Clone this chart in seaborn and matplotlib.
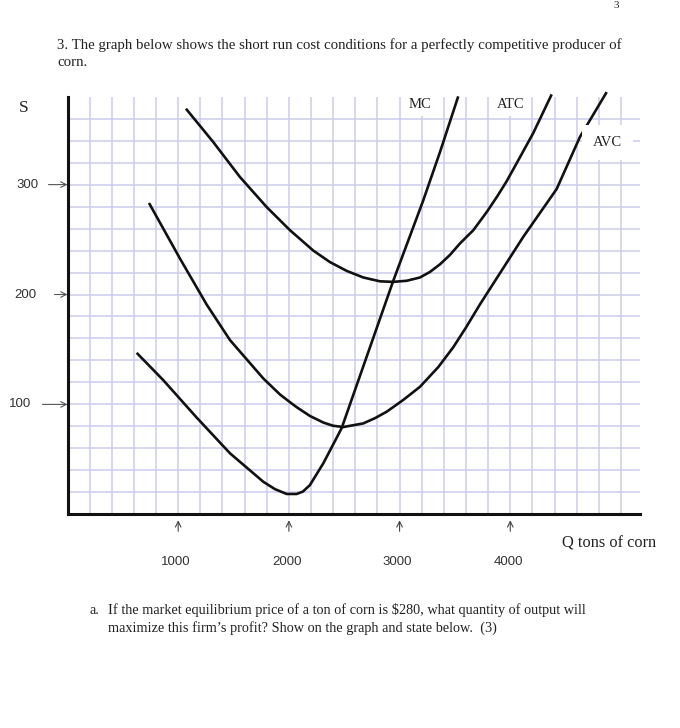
import matplotlib
matplotlib.use("Agg")
import matplotlib.pyplot as plt
import seaborn as sns
import pandas as pd

# ---------------- data ----------------
mc_q = [625, 865, 1167, 1468, 1769, 1874, 1980, 2070, 2127, 2190, 2311, 2416, 2477, 2943, 3214, 3365, 3530]
mc_c = [146.9, 122.1, 88.0, 55.5, 29.6, 22.9, 18.5, 18.5, 20.7, 26.6, 46.4, 66.6, 78.5, 212.5, 285.7, 329.6, 380.3]

atc_q = [1070, 1317, 1558, 1799, 2010, 2220, 2371, 2522, 2672, 2823, 2943, 3064, 3184, 3274, 3365,
         3455, 3545, 3666, 3787, 3880, 3967, 4088, 4208, 4374]
atc_c = [369.1, 338.7, 306.9, 279.6, 258.5, 240.0, 229.5, 221.5, 215.5, 212.0, 211.5, 212.5, 215.5, 220.5, 227.5,
         236.0, 246.4, 258.5, 275.0, 289.0, 303.0, 325.0, 347.0, 382.1]

avc_q = [736, 865, 1016, 1257, 1468, 1769, 1920, 2010, 2070, 2190, 2311, 2398, 2491, 2672, 2778, 2883,
         3031, 3184, 3350, 3485, 3600, 3726, 4117, 4419, 4629, 4871]
avc_c = [283.3, 260.0, 232.7, 190.9, 158.5, 123.6, 109.0, 102.0, 97.5, 89.5, 83.5, 80.6, 79.4, 82.7, 87.5, 93.3,
         103.9, 116.0, 134.0, 152.0, 170.0, 191.0, 252.4, 296.0, 343.3, 384.2]

curve_names = ["MC", "ATC", "AVC"]
x_ticks = [1000, 2000, 3000, 4000]
y_ticks = [100, 200, 300]

title_lines = ["3. The graph below shows the short run cost conditions for a perfectly competitive producer of",
               "corn."]
question_lines = ["If the market equilibrium price of a ton of corn is $280, what quantity of output will",
                  "maximize this firm\u2019s profit? Show on the graph and state below.  (3)"]

df = pd.concat([
    pd.DataFrame({"q": mc_q, "cost": mc_c, "curve": "MC"}),
    pd.DataFrame({"q": atc_q, "cost": atc_c, "curve": "ATC"}),
    pd.DataFrame({"q": avc_q, "cost": avc_c, "curve": "AVC"}),
], ignore_index=True)

# ---------------- style ----------------
sns.set_style("white")
plt.rcParams["font.family"] = ["Liberation Serif", "DejaVu Serif"]

W, H = 680, 728
fig = plt.figure(figsize=(6.8, 7.28), dpi=100)
fig.patch.set_facecolor("white")
ax = fig.add_axes([67.5 / W, 1 - 514.3 / H, (640 - 67.5) / W, (514.3 - 96.7) / H])

for name in curve_names:
    sub = df[df["curve"] == name]
    sns.lineplot(data=sub, x="q", y="cost", ax=ax, color="#111111", lw=1.9,
                 estimator=None, sort=False, legend=False, clip_on=False, zorder=3)
for ln in ax.lines:
    ln.set_solid_joinstyle("round")
    ln.set_solid_capstyle("butt")

ax.set_xlim(0, 5172)
ax.set_ylim(0, 380)

# grid
ax.set_xticks(x_ticks)
ax.set_yticks(y_ticks)
ax.set_xticks(range(200, 5001, 200), minor=True)
ax.set_yticks(range(20, 380, 20), minor=True)
ax.grid(True, which="both", color="#cbcbec", lw=1.1)
ax.tick_params(which="both", length=0, labelbottom=False, labelleft=False)
ax.set_xlabel("")
ax.set_ylabel("")

for s in ["top", "right"]:
    ax.spines[s].set_visible(False)
for s in ["left", "bottom"]:
    ax.spines[s].set_color("#111111")
    ax.spines[s].set_linewidth(2.2)
    ax.spines[s].set_zorder(4)

# y tick arrows + labels
y_arrow_len = {100: 25, 200: 13, 300: 19}
y_label_gap = {100: 11, 200: 18, 300: 10}
for v in y_ticks:
    L = y_arrow_len[v]
    ax.annotate("", xy=(0, v), xytext=(-L, 0), textcoords="offset pixels",
                arrowprops=dict(arrowstyle="->", color="#555555", lw=0.8,
                                shrinkA=0, shrinkB=0), annotation_clip=False)
    ax.annotate(str(v), xy=(0, v), xytext=(-(L + y_label_gap[v]), 0),
                textcoords="offset pixels", ha="right", va="center",
                fontsize=9.5, color="#333333", family=["Liberation Sans", "DejaVu Sans"],
                annotation_clip=False)

# x tick arrows + labels
for t in x_ticks:
    ax.annotate("", xy=(t, 0), xytext=(0, -17), textcoords="offset pixels",
                arrowprops=dict(arrowstyle="->", color="#444444", lw=0.8,
                                shrinkA=0, shrinkB=4.3), annotation_clip=False)
    ax.annotate(str(t), xy=(t, 0), xytext=(-2, -48), textcoords="offset pixels",
                ha="center", va="center", fontsize=9.5, color="#333333",
                family=["Liberation Sans", "DejaVu Sans"], annotation_clip=False)

# curve labels
box = dict(boxstyle="square,pad=0.35", fc="white", ec="none")
ax.text(3180, 373, "MC", ha="center", va="center", fontsize=10.5, color="#222222", bbox=box, zorder=2)
ax.text(4000, 373, "ATC", ha="center", va="center", fontsize=10.5, color="#222222", bbox=box, zorder=2)
ax.text(4880, 338, "AVC", ha="center", va="center", fontsize=10.5, color="#222222",
        bbox=dict(boxstyle="square,pad=0.75", fc="white", ec="none"), zorder=5)

# axis titles
fig.text(24 / W, 1 - 108 / H, "S", ha="center", va="center", fontsize=12.5, color="#222222")
fig.text(562 / W, 1 - 543 / H, "Q tons of corn", ha="left", va="center", fontsize=11.8, color="#222222")

# surrounding page text
fig.text(57 / W, 1 - 45 / H, title_lines[0], ha="left", va="center", fontsize=10.7, color="#222222")
fig.text(57 / W, 1 - 62 / H, title_lines[1], ha="left", va="center", fontsize=10.7, color="#222222")
fig.text(89 / W, 1 - 610 / H, "a.", ha="left", va="center", fontsize=10.3, color="#222222")
fig.text(108 / W, 1 - 610 / H, question_lines[0], ha="left", va="center", fontsize=10.3, color="#222222")
fig.text(108 / W, 1 - 628 / H, question_lines[1], ha="left", va="center", fontsize=10.3, color="#222222")
fig.text(616 / W, 1 - 1 / H, "3", ha="center", va="top", fontsize=8, color="#222222")

fig.savefig("out.png", dpi=100, facecolor="white")
